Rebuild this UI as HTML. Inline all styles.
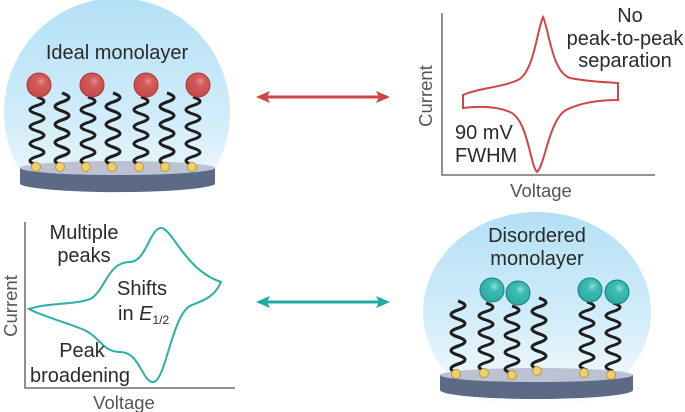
<!DOCTYPE html>
<html><head><meta charset="utf-8"><style>
html,body{margin:0;padding:0;background:#fff;width:685px;height:412px;overflow:hidden}
text{font-family:"Liberation Sans",sans-serif;fill:#2a2a2a}
</style></head><body>
<svg width="685" height="412" viewBox="0 0 685 412" xmlns="http://www.w3.org/2000/svg">
<defs>
<linearGradient id="dome" x1="0" y1="0" x2="0" y2="1">
<stop offset="0" stop-color="#b3e0f6"/><stop offset="0.55" stop-color="#d3edfa"/><stop offset="1" stop-color="#ffffff"/>
</linearGradient>
<clipPath id="c1"><rect x="0" y="0" width="260" height="176"/></clipPath>
<clipPath id="c2"><rect x="400" y="200" width="285" height="381"/></clipPath>
<path id="spr" d="M0 0 q 14 4.25 0 8.5 t0 8.5 t0 8.5 t0 8.5 t0 8.5 t0 8.5 t0 8.5 t0 8.5" fill="none" stroke="#1e1e1e" stroke-width="3"/>
<radialGradient id="red" cx="0.6" cy="0.35" r="0.7"><stop offset="0" stop-color="#e88a8a"/><stop offset="0.3" stop-color="#d35a5a"/><stop offset="1" stop-color="#c84848"/></radialGradient>
<radialGradient id="teal" cx="0.6" cy="0.35" r="0.7"><stop offset="0" stop-color="#8fdcd6"/><stop offset="0.3" stop-color="#3dbcb4"/><stop offset="1" stop-color="#2aa9a1"/></radialGradient>
</defs>

<!-- Top-left dome -->
<ellipse cx="117" cy="112" rx="113" ry="114" fill="url(#dome)" clip-path="url(#c1)"/>
<path d="M20 168 L20 184 A98 9 0 0 0 215 184 L215 168 Z" fill="#5d6a85"/>
<ellipse cx="117.5" cy="168" rx="97.5" ry="7" fill="#bcc2d1"/>
<text x="117" y="59" font-size="20" text-anchor="middle">Ideal monolayer</text>
<g>
<use href="#spr" transform="translate(37,97)"/>
<use href="#spr" transform="translate(62,93) scale(1,1.06)"/>
<use href="#spr" transform="translate(88,97)"/>
<use href="#spr" transform="translate(113,93) scale(1,1.06)"/>
<use href="#spr" transform="translate(141,97)"/>
<use href="#spr" transform="translate(167,93) scale(1,1.06)"/>
<use href="#spr" transform="translate(193,97)"/>
</g>
<g stroke="#b89a3e" stroke-width="1" fill="#f1cf6a">
<circle cx="36" cy="167" r="4.5"/><circle cx="60" cy="167" r="4.5"/><circle cx="86" cy="167" r="4.5"/><circle cx="112" cy="167" r="4.5"/><circle cx="139" cy="167" r="4.5"/><circle cx="165" cy="167" r="4.5"/><circle cx="192" cy="167" r="4.5"/>
</g>
<g fill="url(#red)" stroke="#a93838" stroke-width="1">
<circle cx="39" cy="85" r="12"/><circle cx="92" cy="85" r="12"/><circle cx="146" cy="85" r="12"/><circle cx="198" cy="85" r="12"/>
</g>

<!-- red arrow -->
<line x1="266" y1="97" x2="380" y2="97" stroke="#cf4444" stroke-width="3"/>
<path d="M256 97 L270 91 L267 97 L270 103 Z" fill="#cf4444"/>
<path d="M390 97 L376 91 L379 97 L376 103 Z" fill="#cf4444"/>

<!-- Top-right plot -->
<path d="M442 13 L442 175 L655 175" fill="none" stroke="#555" stroke-width="1.3"/>
<path d="M463 108 L463 95 C 478 88 500 88 518 80 C 534 72 537 30 543 17 C 549 30 552 72 570 78 C 590 82 605 82 618 83 L618 100 C 600 100 582 102 566 110 C 549 120 545 165 537 172 C 530 165 528 120 510 112 C 495 106 480 106 463 108 Z" fill="none" stroke="#d04646" stroke-width="2"/>
<text x="630" y="22" font-size="20" text-anchor="middle">No</text>
<text x="625" y="45" font-size="20" text-anchor="middle">peak-to-peak</text>
<text x="625" y="67" font-size="20" text-anchor="middle">separation</text>
<text x="455" y="139" font-size="20">90 mV</text>
<text x="455" y="162" font-size="20">FWHM</text>
<text x="541" y="197" font-size="18.5" text-anchor="middle" style="fill:#555">Voltage</text>
<text transform="translate(432,96) rotate(-90)" font-size="18.5" text-anchor="middle" style="fill:#555">Current</text>

<!-- Bottom-left plot -->
<path d="M25 222 L25 388 L235 388" fill="none" stroke="#555" stroke-width="1.3"/>
<path d="M29 309 C 50 302 80 305 92 298 C 106 288 108 262 130 262 C 146 262 150 228 161 228 C 172 228 185 270 221 282 C 215 296 205 300 192 305 C 172 312 166 382 153 382 C 142 382 140 352 120 352 C 102 352 100 336 82 329 C 62 321 42 316 29 309 Z" fill="none" stroke="#2ab0a8" stroke-width="2"/>
<text x="84" y="239" font-size="20" text-anchor="middle">Multiple</text>
<text x="84" y="262" font-size="20" text-anchor="middle">peaks</text>
<text x="142" y="295" font-size="20" text-anchor="middle">Shifts</text>
<text x="118" y="320" font-size="20">in <tspan font-style="italic">E</tspan><tspan font-size="12" dy="4">1/2</tspan></text>
<text x="82" y="357" font-size="20" text-anchor="middle">Peak</text>
<text x="80" y="382" font-size="20" text-anchor="middle">broadening</text>
<text x="124" y="409" font-size="18.5" text-anchor="middle" style="fill:#555">Voltage</text>
<text transform="translate(17,306) rotate(-90)" font-size="18.5" text-anchor="middle" style="fill:#555">Current</text>

<!-- teal arrow -->
<line x1="266" y1="302" x2="380" y2="302" stroke="#1fa9a3" stroke-width="3"/>
<path d="M256 302 L270 296 L267 302 L270 308 Z" fill="#1fa9a3"/>
<path d="M390 302 L376 296 L379 302 L376 308 Z" fill="#1fa9a3"/>

<!-- Bottom-right dome -->
<ellipse cx="537" cy="312" rx="114" ry="100" fill="url(#dome)" clip-path="url(#c2)"/>
<path d="M440 375 L440 390 A96.5 9 0 0 0 633 390 L633 375 Z" fill="#5d6a85"/>
<ellipse cx="536.5" cy="375" rx="96.5" ry="7" fill="#bcc2d1"/>
<text x="537" y="242" font-size="20" text-anchor="middle">Disordered</text>
<text x="537" y="265" font-size="20" text-anchor="middle">monolayer</text>
<g>
<use href="#spr" transform="translate(458,301) scale(1,1.06)"/>
<use href="#spr" transform="translate(486,303) scale(1,1.0)"/>
<use href="#spr" transform="translate(512,306) scale(1,0.99)"/>
<use href="#spr" transform="translate(539,298) scale(1,1.05)"/>
<use href="#spr" transform="translate(587,302) scale(1,1.0)"/>
<use href="#spr" transform="translate(613,303) scale(1,1.0)"/>
</g>
<g stroke="#b89a3e" stroke-width="1" fill="#f1cf6a">
<circle cx="456" cy="374" r="4.5"/><circle cx="484" cy="373" r="4.5"/><circle cx="512" cy="375" r="4.5"/><circle cx="537" cy="371" r="4.5"/><circle cx="584" cy="373" r="4.5"/><circle cx="611" cy="375" r="4.5"/>
</g>
<g fill="url(#teal)" stroke="#1b8079" stroke-width="1">
<circle cx="492" cy="290" r="12"/><circle cx="518" cy="293" r="12"/><circle cx="590" cy="290" r="12"/><circle cx="617" cy="292" r="12"/>
</g>
</svg>
</body></html>
